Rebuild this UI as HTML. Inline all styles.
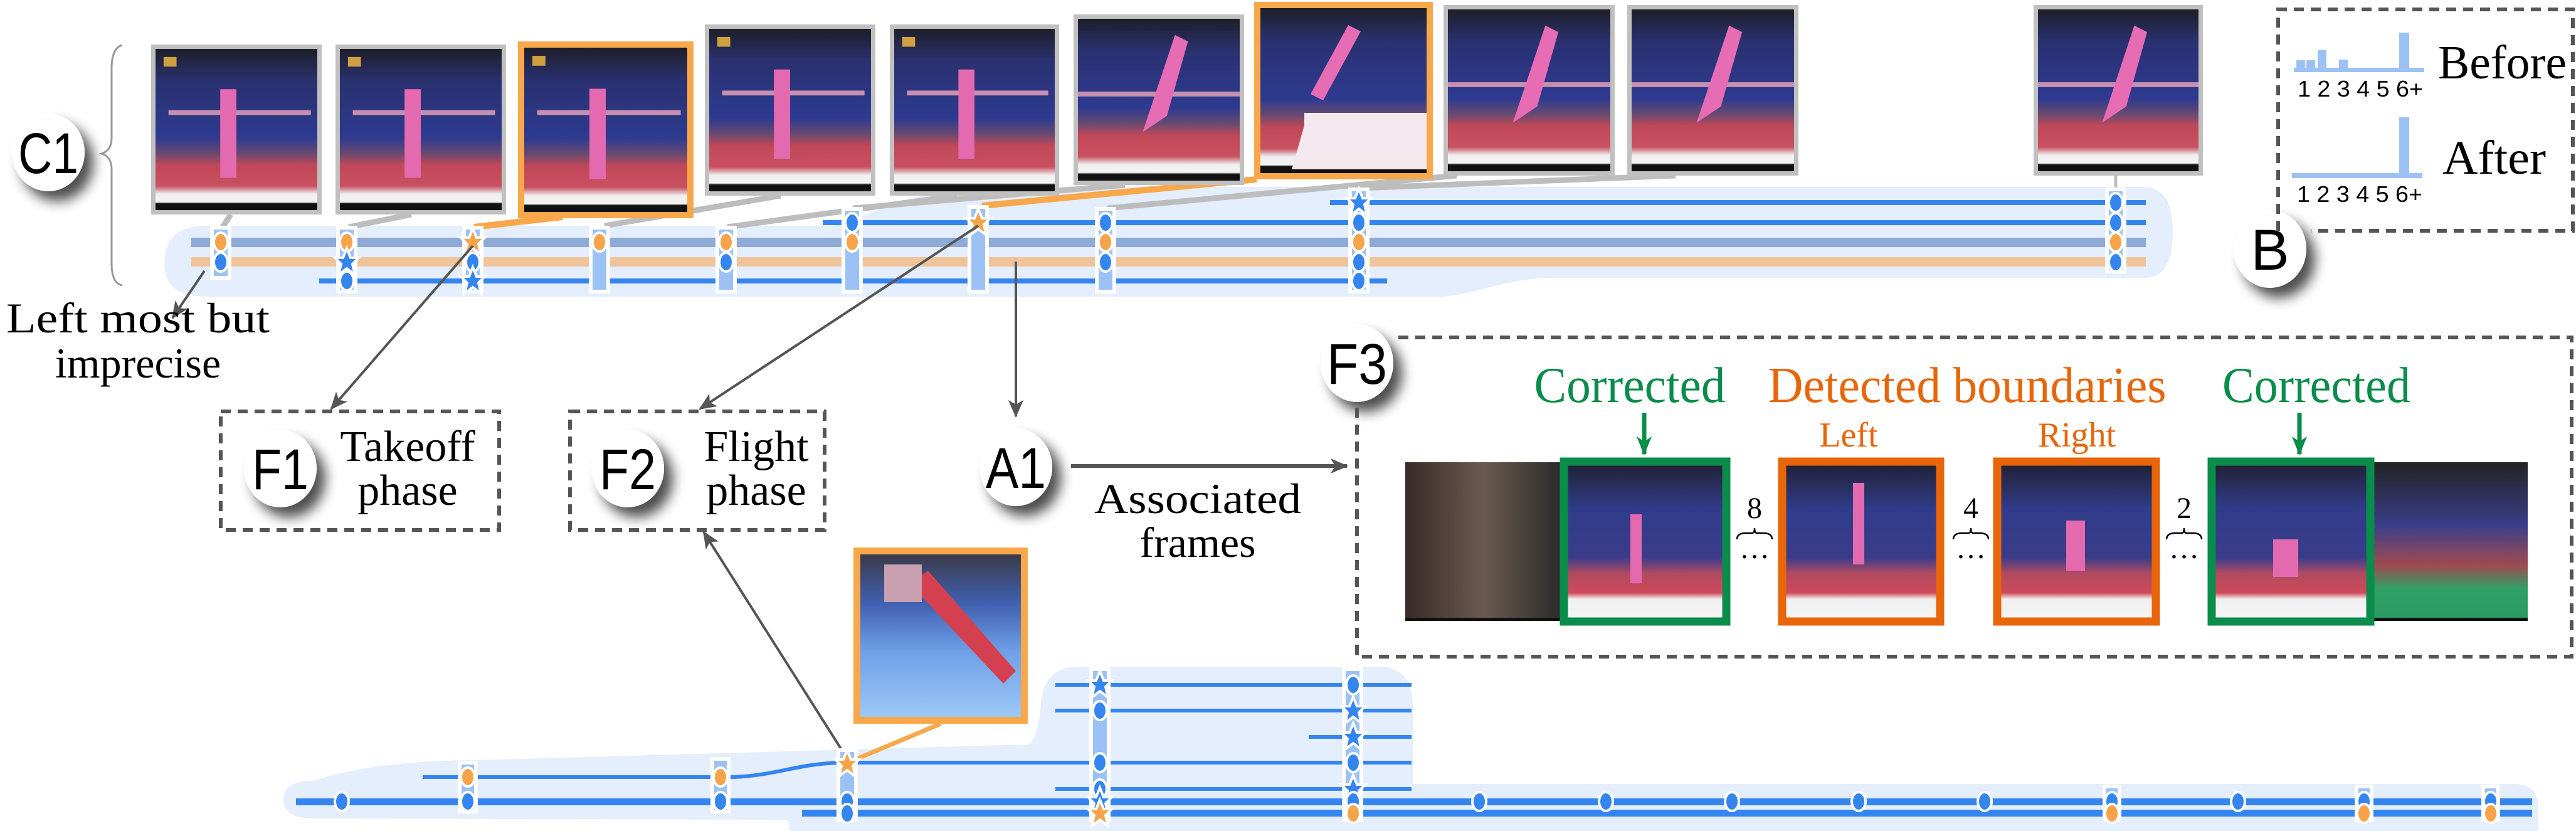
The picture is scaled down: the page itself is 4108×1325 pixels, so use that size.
<!DOCTYPE html>
<html><head><meta charset="utf-8"><style>
html,body{margin:0;padding:0;background:#fff;}
svg{display:block;}
</style></head><body>
<svg width="4108" height="1325" viewBox="0 0 4108 1325" xmlns="http://www.w3.org/2000/svg">
<defs>
<linearGradient id="tg" x1="0" y1="0" x2="0" y2="1">
<stop offset="0" stop-color="#1e1e28"/><stop offset="0.2" stop-color="#2a3170"/>
<stop offset="0.55" stop-color="#2d3a90"/><stop offset="0.65" stop-color="#6a4a70"/>
<stop offset="0.72" stop-color="#c04858"/><stop offset="0.85" stop-color="#c85060"/>
<stop offset="0.9" stop-color="#eeeeee"/><stop offset="0.95" stop-color="#f4f4f4"/>
<stop offset="0.96" stop-color="#111"/><stop offset="1" stop-color="#111"/>
</linearGradient>
<linearGradient id="tg2" x1="0" y1="0" x2="0" y2="1">
<stop offset="0" stop-color="#202030"/><stop offset="0.3" stop-color="#303c8a"/>
<stop offset="0.6" stop-color="#3a3c8a"/><stop offset="0.7" stop-color="#b04a60"/>
<stop offset="0.82" stop-color="#d04a5a"/><stop offset="0.86" stop-color="#f0f0f0"/>
<stop offset="1" stop-color="#f6f6f6"/>
</linearGradient>
<linearGradient id="tg3" x1="0" y1="0" x2="0" y2="1">
<stop offset="0" stop-color="#3a3a4a"/><stop offset="0.3" stop-color="#4060b0"/>
<stop offset="0.6" stop-color="#6fa0e8"/><stop offset="1" stop-color="#9cc8f5"/>
</linearGradient>
<linearGradient id="dk" x1="0" y1="0" x2="1" y2="0">
<stop offset="0" stop-color="#3a2a28"/><stop offset="0.5" stop-color="#6a5a50"/><stop offset="1" stop-color="#2a2a2a"/>
</linearGradient>
<linearGradient id="gr" x1="0" y1="0" x2="0" y2="1">
<stop offset="0" stop-color="#222"/><stop offset="0.4" stop-color="#3a3e8a"/>
<stop offset="0.65" stop-color="#a04a50"/><stop offset="0.8" stop-color="#2fa066"/><stop offset="1" stop-color="#2a9a60"/>
</linearGradient>
<filter id="sh" x="-50%" y="-50%" width="200%" height="200%">
<feGaussianBlur in="SourceAlpha" stdDeviation="10"/><feOffset dx="14" dy="16"/>
<feComponentTransfer><feFuncA type="linear" slope="0.7"/></feComponentTransfer>
<feMerge><feMergeNode/><feMergeNode in="SourceGraphic"/></feMerge>
</filter>
<marker id="ahb" markerWidth="28" markerHeight="24" refX="26" refY="12" orient="auto" markerUnits="userSpaceOnUse">
<path d="M0,0 L28,12 L0,24 L7,12 z" fill="#555"/>
</marker>
<marker id="ahg" markerWidth="30" markerHeight="24" refX="28" refY="12" orient="auto" markerUnits="userSpaceOnUse">
<path d="M0,0 L30,12 L0,24 L8,12 z" fill="#0a8c4a"/>
</marker>
<symbol id="thumb" viewBox="0 0 100 100" preserveAspectRatio="none">
<rect width="100" height="100" fill="url(#tg)"/>
<rect x="8" y="38" width="88" height="3" fill="#c890b0"/>
<rect x="40" y="25" width="10" height="55" fill="#e46ab0"/>
<rect x="5" y="5" width="8" height="6" fill="#d0a040"/>
</symbol>
<symbol id="thumbf" viewBox="0 0 100 100" preserveAspectRatio="none">
<rect width="100" height="100" fill="url(#tg)"/>
<rect x="0" y="45" width="100" height="3" fill="#c890b0"/>
<path d="M40 70 L60 10 L68 14 L55 60 Z" fill="#e66cb4"/>
</symbol>
<g id="mb"><ellipse rx="11" ry="15" fill="#3585f0" stroke="#fff" stroke-width="4"/></g>
<g id="mo"><ellipse rx="11" ry="15" fill="#f6a34a" stroke="#fff" stroke-width="4"/></g>
<g id="sb"><path d="M0,-22 L6,-7 L19,-7 L9,3 L13,20 L0,10 L-13,20 L-9,3 L-19,-7 L-6,-7 Z" fill="#3585f0" stroke="#fff" stroke-width="4"/></g>
<g id="so"><path d="M0,-22 L6,-7 L19,-7 L9,3 L13,20 L0,10 L-13,20 L-9,3 L-19,-7 L-6,-7 Z" fill="#f6a34a" stroke="#fff" stroke-width="4"/></g>
</defs>

<!-- ===== TOP TIMELINE BACKGROUND ===== -->
<path d="M330,360 L1330,360 C1420,330 1480,300 1560,298 L3420,298 Q3465,300 3465,370 Q3465,443 3420,443 L2470,443 C2400,445 2350,470 2300,473 L330,473 Q262,473 262,420 Q262,360 330,360 Z" fill="#e4eefc"/>
<rect x="305" y="379" width="3117" height="15" fill="#8eaad6"/>
<rect x="305" y="410" width="3117" height="15" fill="#efc49a"/>
<rect x="1312" y="351" width="2110" height="8" fill="#3585f0"/>
<rect x="2121" y="319" width="1301" height="8" fill="#3585f0"/>
<rect x="509" y="444" width="1703" height="8" fill="#3585f0"/>

<g stroke="#bdbdbd" stroke-width="9" fill="none">
<line x1="368" y1="342" x2="355" y2="362"/>
<line x1="656" y1="342" x2="556" y2="362"/>
<line x1="1245" y1="312" x2="964" y2="360"/>
<line x1="1526" y1="312" x2="1160" y2="362"/>
<line x1="1794" y1="295" x2="1360" y2="332"/>
<line x1="2323" y1="280" x2="1766" y2="332"/>
<line x1="2672" y1="280" x2="2168" y2="300"/>
<line x1="3374" y1="280" x2="3374" y2="302" stroke-width="5"/>
</g>
<g stroke="#f8a84b" stroke-width="10" fill="none">
<line x1="897" y1="346" x2="756" y2="362"/>
<line x1="2004" y1="286" x2="1566" y2="328"/>
</g>

<g fill="#9cc2f5" stroke="#fff" stroke-width="6">
<rect x="338" y="363" width="28" height="80"/>
<rect x="539" y="363" width="28" height="102"/>
<rect x="740" y="363" width="28" height="102"/>
<rect x="942" y="363" width="28" height="102"/>
<rect x="1144" y="363" width="28" height="102"/>
<rect x="1345" y="333" width="28" height="132"/>
<rect x="1546" y="330" width="28" height="135"/>
<rect x="1749" y="333" width="28" height="132"/>
<rect x="2153" y="302" width="28" height="163"/>
<rect x="3360" y="302" width="28" height="131"/>
</g>
<use href="#mo" x="352" y="386"/><use href="#mb" x="352" y="418"/>
<use href="#mo" x="553" y="386"/><use href="#sb" x="553" y="418"/><use href="#mb" x="553" y="448"/>
<use href="#so" x="754" y="386"/><use href="#mb" x="754" y="418"/><use href="#sb" x="754" y="448"/>
<use href="#mo" x="956" y="386"/>
<use href="#mo" x="1158" y="386"/><use href="#mb" x="1158" y="418"/>
<use href="#mb" x="1359" y="355"/><use href="#mo" x="1359" y="386"/>
<use href="#so" x="1560" y="355"/>
<use href="#mb" x="1763" y="355"/><use href="#mo" x="1763" y="386"/><use href="#mb" x="1763" y="418"/>
<use href="#sb" x="2167" y="323"/><use href="#mb" x="2167" y="355"/><use href="#mo" x="2167" y="386"/><use href="#mb" x="2167" y="418"/><use href="#mb" x="2167" y="448"/>
<use href="#mb" x="3374" y="323"/><use href="#mb" x="3374" y="355"/><use href="#mo" x="3374" y="386"/><use href="#mb" x="3374" y="418"/>

<g>
<rect x="241" y="71" width="272" height="271" fill="#c0c0c0"/><use href="#thumb" x="248" y="78" width="258" height="257"/>
<rect x="535" y="71" width="272" height="271" fill="#c0c0c0"/><use href="#thumb" x="542" y="78" width="258" height="257"/>
<rect x="826" y="66" width="280" height="282" fill="#f8a84b"/><use href="#thumb" x="836" y="76" width="260" height="262"/>
<rect x="1124" y="39" width="272" height="273" fill="#c0c0c0"/><use href="#thumb" x="1131" y="46" width="258" height="259"/>
<rect x="1419" y="39" width="270" height="273" fill="#c0c0c0"/><use href="#thumb" x="1426" y="46" width="256" height="259"/>
<rect x="1712" y="23" width="272" height="272" fill="#c0c0c0"/><use href="#thumbf" x="1719" y="30" width="258" height="258"/>
<rect x="2000" y="3" width="285" height="283" fill="#f8a84b"/>
<rect x="2010" y="13" width="265" height="263" fill="url(#tg)"/><path d="M2080 200 L2080 180 L2275 180 L2275 270 L2060 270 Z" fill="#f3e8ee"/><path d="M2090 150 L2150 40 L2170 50 L2110 160 Z" fill="#e66cb4"/>
<rect x="2302" y="8" width="273" height="272" fill="#c0c0c0"/><use href="#thumbf" x="2309" y="15" width="259" height="258"/>
<rect x="2595" y="8" width="273" height="272" fill="#c0c0c0"/><use href="#thumbf" x="2602" y="15" width="259" height="258"/>
<rect x="3243" y="8" width="270" height="272" fill="#c0c0c0"/><use href="#thumbf" x="3250" y="15" width="256" height="258"/>
</g>

<path d="M195,72 Q178,76 178,110 L178,220 Q178,240 162,245 Q178,250 178,270 L178,420 Q178,452 195,455" fill="none" stroke="#999" stroke-width="3"/>

<g filter="url(#sh)" fill="#fff">
<ellipse cx="77" cy="243" rx="58" ry="62"/>
<ellipse cx="3620" cy="397" rx="58" ry="62"/>
<ellipse cx="447" cy="747" rx="58" ry="62"/>
<ellipse cx="1001" cy="747" rx="58" ry="62"/>
<ellipse cx="1620" cy="745" rx="58" ry="62"/>
<ellipse cx="2164" cy="579" rx="58" ry="62"/>
</g>
<g font-family="'Liberation Sans', sans-serif" font-size="92" text-anchor="middle" fill="#000">
<text x="77" y="276" textLength="96" lengthAdjust="spacingAndGlyphs">C1</text>
<text x="3620" y="430">B</text>
<text x="447" y="780" textLength="90" lengthAdjust="spacingAndGlyphs">F1</text>
<text x="1001" y="780" textLength="90" lengthAdjust="spacingAndGlyphs">F2</text>
<text x="1620" y="778" textLength="96" lengthAdjust="spacingAndGlyphs">A1</text>
<text x="2164" y="612" textLength="96" lengthAdjust="spacingAndGlyphs">F3</text>
</g>

<path d="M3633,368 L3633,15 L4103,15 L4103,368 L3685,368" fill="none" stroke="#555" stroke-width="6" stroke-dasharray="16,11"/>
<g fill="#9cc2f5">
<rect x="3658" y="108" width="208" height="7"/>
<rect x="3662" y="96" width="14" height="14"/><rect x="3678" y="96" width="14" height="14"/>
<rect x="3696" y="80" width="14" height="30"/>
<rect x="3730" y="95" width="14" height="15"/><rect x="3826" y="52" width="16" height="58"/>
<rect x="3655" y="276" width="208" height="8"/>
<rect x="3826" y="187" width="16" height="92"/>
</g>
<g font-family="'Liberation Serif', serif" fill="#000">
<text x="3888" y="125" font-size="76" textLength="205" lengthAdjust="spacingAndGlyphs">Before</text>
<text x="3895" y="277" font-size="76" textLength="165" lengthAdjust="spacingAndGlyphs">After</text>
</g>
<g font-family="'Liberation Sans', sans-serif" font-size="36" fill="#000">
<text x="3664" y="154" textLength="200" lengthAdjust="spacingAndGlyphs">1 2 3 4 5 6+</text>
<text x="3663" y="322" textLength="200" lengthAdjust="spacingAndGlyphs">1 2 3 4 5 6+</text>
</g>

<g stroke="#555" stroke-width="4" fill="none">
<line x1="326" y1="432" x2="275" y2="507" marker-end="url(#ahb)"/>
<line x1="754" y1="392" x2="528" y2="652" marker-end="url(#ahb)"/>
<line x1="1560" y1="360" x2="1116" y2="652" marker-end="url(#ahb)"/>
<line x1="1620" y1="417" x2="1620" y2="664" marker-end="url(#ahb)"/>
<line x1="1345" y1="1200" x2="1122" y2="848" marker-end="url(#ahb)"/>
<line x1="1708" y1="743" x2="2148" y2="743" stroke-width="6" marker-end="url(#ahb)"/>
</g>
<g font-family="'Liberation Serif', serif" fill="#000" font-size="68" text-anchor="middle">
<text x="220" y="530" textLength="420" lengthAdjust="spacingAndGlyphs">Left most but</text>
<text x="220" y="602">imprecise</text>
<text x="1910" y="818" textLength="330" lengthAdjust="spacingAndGlyphs">Associated</text>
<text x="1910" y="888">frames</text>
</g>

<g fill="none" stroke="#555" stroke-width="6" stroke-dasharray="16,11">
<rect x="352" y="656" width="444" height="189"/>
<rect x="909" y="656" width="406" height="189"/>
</g>
<g font-family="'Liberation Serif', serif" fill="#000" font-size="70" text-anchor="middle">
<text x="650" y="735">Takeoff</text>
<text x="650" y="805">phase</text>
<text x="1206" y="735">Flight</text>
<text x="1206" y="805">phase</text>
</g>

<path d="M2230,538 L4101,538 L4101,1047 L2164,1047 L2164,650" fill="none" stroke="#555" stroke-width="6" stroke-dasharray="16,11"/>
<g font-family="'Liberation Serif', serif" font-size="80" text-anchor="middle">
<text x="2599" y="641" fill="#0a8c4a" textLength="305" lengthAdjust="spacingAndGlyphs">Corrected</text>
<text x="3137" y="641" fill="#e8650a" textLength="635" lengthAdjust="spacingAndGlyphs">Detected boundaries</text>
<text x="3694" y="641" fill="#0a8c4a" textLength="300" lengthAdjust="spacingAndGlyphs">Corrected</text>
<text x="2948" y="712" font-size="56" fill="#e8650a">Left</text>
<text x="3312" y="712" font-size="56" fill="#e8650a">Right</text>
</g>
<g stroke="#0a8c4a" stroke-width="7">
<line x1="2622" y1="658" x2="2622" y2="724" marker-end="url(#ahg)"/>
<line x1="3667" y1="658" x2="3667" y2="724" marker-end="url(#ahg)"/>
</g>
<rect x="2241" y="737" width="250" height="252" fill="url(#dk)"/>
<rect x="2241" y="985" width="250" height="5" fill="#111"/>
<rect x="2494" y="736" width="259" height="255" fill="url(#tg2)" stroke="#0a8c4a" stroke-width="13"/>
<rect x="2842" y="736" width="252" height="255" fill="url(#tg2)" stroke="#e8650a" stroke-width="13"/>
<rect x="3185" y="736" width="253" height="255" fill="url(#tg2)" stroke="#e8650a" stroke-width="13"/>
<rect x="3786" y="737" width="245" height="252" fill="url(#gr)"/>
<rect x="3786" y="985" width="245" height="5" fill="#111"/>
<rect x="3527" y="736" width="253" height="255" fill="url(#tg2)" stroke="#0a8c4a" stroke-width="13"/>
<g fill="#e46ab0"><rect x="2600" y="820" width="18" height="110"/><rect x="2955" y="770" width="18" height="130"/><rect x="3295" y="830" width="30" height="80"/><rect x="3625" y="860" width="40" height="60"/></g>
<g font-family="'Liberation Serif', serif" fill="#000" font-size="48" text-anchor="middle">
<text x="2798" y="826">8</text><text x="3143" y="826">4</text><text x="3483" y="826">2</text>
<text x="2798" y="890">…</text><text x="3143" y="890">…</text><text x="3483" y="890">…</text>
</g>
<g fill="none" stroke="#000" stroke-width="2.5">
<path d="M2770,860 Q2770,850 2784,850 L2794,850 Q2798,850 2798,842 Q2798,850 2802,850 L2812,850 Q2826,850 2826,860"/>
<path d="M3115,860 Q3115,850 3129,850 L3139,850 Q3143,850 3143,842 Q3143,850 3147,850 L3157,850 Q3171,850 3171,860"/>
<path d="M3455,860 Q3455,850 3469,850 L3479,850 Q3483,850 3483,842 Q3483,850 3487,850 L3497,850 Q3511,850 3511,860"/>
</g>

<!-- ===== BOTTOM TIMELINE ===== -->
<path d="M500,1245 C560,1225 650,1212 760,1212 L1640,1187 Q1656,1180 1660,1120 Q1665,1063 1720,1063 L2200,1063 Q2253,1063 2253,1130 L2253,1250 L4010,1250 Q4048,1250 4048,1290 L4048,1325 L1260,1325 L1256,1307 L500,1305 Q452,1305 452,1275 Q452,1245 500,1245 Z" fill="#e4eefc"/>
<rect x="472" y="1273" width="3566" height="11" fill="#3585f0"/>
<rect x="1279" y="1291" width="2759" height="11" fill="#3585f0"/>
<rect x="674" y="1236" width="500" height="6" fill="#3585f0"/>
<path d="M1170,1239 C1240,1236 1270,1218 1340,1216" stroke="#3585f0" stroke-width="6" fill="none"/>
<rect x="1340" y="1213" width="911" height="6" fill="#3585f0"/>
<rect x="1683" y="1089" width="568" height="6" fill="#3585f0"/>
<rect x="1683" y="1130" width="568" height="6" fill="#3585f0"/>
<rect x="2087" y="1172" width="164" height="6" fill="#3585f0"/>
<rect x="1683" y="1255" width="568" height="6" fill="#3585f0"/>
<line x1="1500" y1="1154" x2="1352" y2="1216" stroke="#f8a84b" stroke-width="7"/>
<rect x="1361" y="873" width="278" height="281" fill="#f8a84b"/>
<rect x="1372" y="884" width="256" height="259" fill="url(#tg3)"/>
<path d="M1450 930 L1600 1090 L1620 1070 L1480 910 Z" fill="#d44050"/>
<rect x="1410" y="900" width="60" height="60" fill="#c8a0b0"/>
<g fill="#9cc2f5" stroke="#fff" stroke-width="6">
<rect x="733" y="1216" width="26" height="78"/>
<rect x="1136" y="1210" width="26" height="84"/>
<rect x="1337" y="1196" width="28" height="112"/>
<rect x="1740" y="1067" width="28" height="241"/>
<rect x="2143" y="1067" width="28" height="241"/>
<rect x="3356" y="1254" width="24" height="54"/>
<rect x="3758" y="1254" width="24" height="54"/>
<rect x="3960" y="1254" width="24" height="54"/>
</g>
<use href="#mo" x="746" y="1239"/><use href="#mb" x="746" y="1278"/>
<use href="#mo" x="1149" y="1239"/><use href="#mb" x="1149" y="1278"/>
<use href="#so" x="1351" y="1218"/><use href="#mb" x="1351" y="1278"/><use href="#mb" x="1351" y="1297"/>
<use href="#sb" x="1754" y="1092"/><use href="#mb" x="1754" y="1133"/><use href="#mb" x="1754" y="1216"/><use href="#mb" x="1754" y="1258"/><use href="#sb" x="1754" y="1278"/><use href="#so" x="1754" y="1297"/>
<use href="#mb" x="2158" y="1092"/><use href="#sb" x="2158" y="1133"/><use href="#sb" x="2158" y="1175"/><use href="#mb" x="2158" y="1216"/><use href="#sb" x="2158" y="1258"/><use href="#mb" x="2158" y="1278"/><use href="#mo" x="2158" y="1297"/>
<use href="#mb" x="545" y="1278"/>
<use href="#mb" x="2359" y="1278"/><use href="#mb" x="2561" y="1278"/><use href="#mb" x="2762" y="1278"/><use href="#mb" x="2964" y="1278"/><use href="#mb" x="3165" y="1278"/><use href="#mb" x="3569" y="1278"/>
<use href="#mb" x="3368" y="1278"/><use href="#mo" x="3368" y="1297"/>
<use href="#mb" x="3770" y="1278"/><use href="#mo" x="3770" y="1297"/>
<use href="#mb" x="3972" y="1278"/><use href="#mo" x="3972" y="1297"/>
</svg>
</body></html>
